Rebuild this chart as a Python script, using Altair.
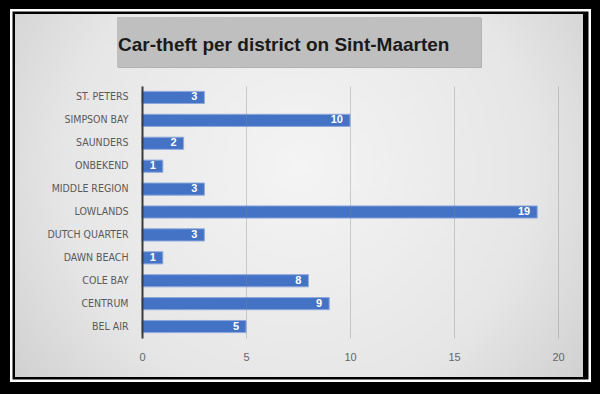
import altair as alt
import pandas as pd

districts = ["ST. PETERS", "SIMPSON BAY", "SAUNDERS", "ONBEKEND", "MIDDLE REGION",
             "LOWLANDS", "DUTCH QUARTER", "DAWN BEACH", "COLE BAY", "CENTRUM", "BEL AIR"]
thefts = [3, 10, 2, 1, 3, 19, 3, 1, 8, 9, 5]
x_ticks = [0, 5, 10, 15, 20]
title_text = "Car-theft per district on Sint-Maarten"

df = pd.DataFrame({"district": districts, "thefts": thefts})

W, H = 416, 252
PL, PT = 142, 86
CW, CH = 600, 394


def frame_rect(x0, y0, x1, y1, fill):
    return alt.Chart(pd.DataFrame({"a": [0]})).mark_rect(fill=fill).encode(
        x=alt.value(x0 - PL), x2=alt.value(x1 - PL),
        y=alt.value(y0 - PT), y2=alt.value(y1 - PT))


outer = frame_rect(0, 0, CW, CH, "black")
white = frame_rect(10, 9, 591, 382, "white")
inner_black = frame_rect(12.5, 11.5, 588.5, 379.5, "black")
grad = alt.RadialGradient(
    gradient="radial", x1=0.5, y1=0.45, x2=0.5, y2=0.45, r1=0, r2=0.75,
    stops=[alt.GradientStop(offset=0, color="#f4f4f4"),
           alt.GradientStop(offset=0.55, color="#e6e6e6"),
           alt.GradientStop(offset=0.85, color="#cfcfcf"),
           alt.GradientStop(offset=1, color="#9a9a9a")])
panel = alt.Chart(pd.DataFrame({"a": [0]})).mark_rect(fill=grad).encode(
    x=alt.value(15 - PL), x2=alt.value(583 - PL),
    y=alt.value(14 - PT), y2=alt.value(377 - PT))

title_shadow = frame_rect(118, 18, 482, 68, "#b2b2b2")
title_box = frame_rect(117, 17, 481, 67, "#bfbfbf")
title = alt.Chart(pd.DataFrame({"t": [title_text]})).mark_text(
    align="left", baseline="middle", font="Liberation Sans", fontWeight="bold",
    fontSize=19, color="#1a1a1a").encode(
    x=alt.value(118 - PL), y=alt.value(45 - PT), text="t:N")

x_enc = alt.X("thefts:Q", scale=alt.Scale(domain=[0, 20], nice=False),
              axis=alt.Axis(values=x_ticks, title=None, grid=True, gridColor="#808080",
                            gridOpacity=0.35, gridWidth=1, domain=False, ticks=False,
                            labelFlush=False, labelPadding=13, labelColor="#666666",
                            labelFont="Liberation Sans", labelFontSize=11, zindex=1))
y_enc = alt.Y("district:N", sort=districts,
              scale=alt.Scale(paddingInner=0.47, paddingOuter=0.235),
              axis=alt.Axis(title=None, domain=True, domainColor="#3a3a3a", domainWidth=2,
                            ticks=False, labelPadding=14, labelColor="#5a5a5a",
                            labelFont="DejaVu Sans Condensed, Liberation Sans",
                            labelFontSize=10.5, zindex=1))

bars = alt.Chart(df).mark_bar(color="#4472C4", stroke="#8EA9DB", strokeWidth=1).encode(
    x=x_enc, y=y_enc)
labels = alt.Chart(df).mark_text(
    align="right", baseline="middle", dx=-7, color="white", fontWeight="bold",
    font="Liberation Sans", fontSize=11).encode(
    x="thefts:Q", y=alt.Y("district:N", sort=districts), text="thefts:Q")

chart = alt.layer(outer, white, inner_black, panel, title_shadow, title_box, title,
                  bars, labels).properties(
    width=W, height=H,
    padding={"left": PL, "top": PT, "right": CW - PL - W, "bottom": CH - PT - H},
    autosize=alt.AutoSizeParams(type="none"),
    background="black",
).configure_view(strokeWidth=0)

chart.save("out.html", embed_options={"renderer": "svg", "actions": False})
